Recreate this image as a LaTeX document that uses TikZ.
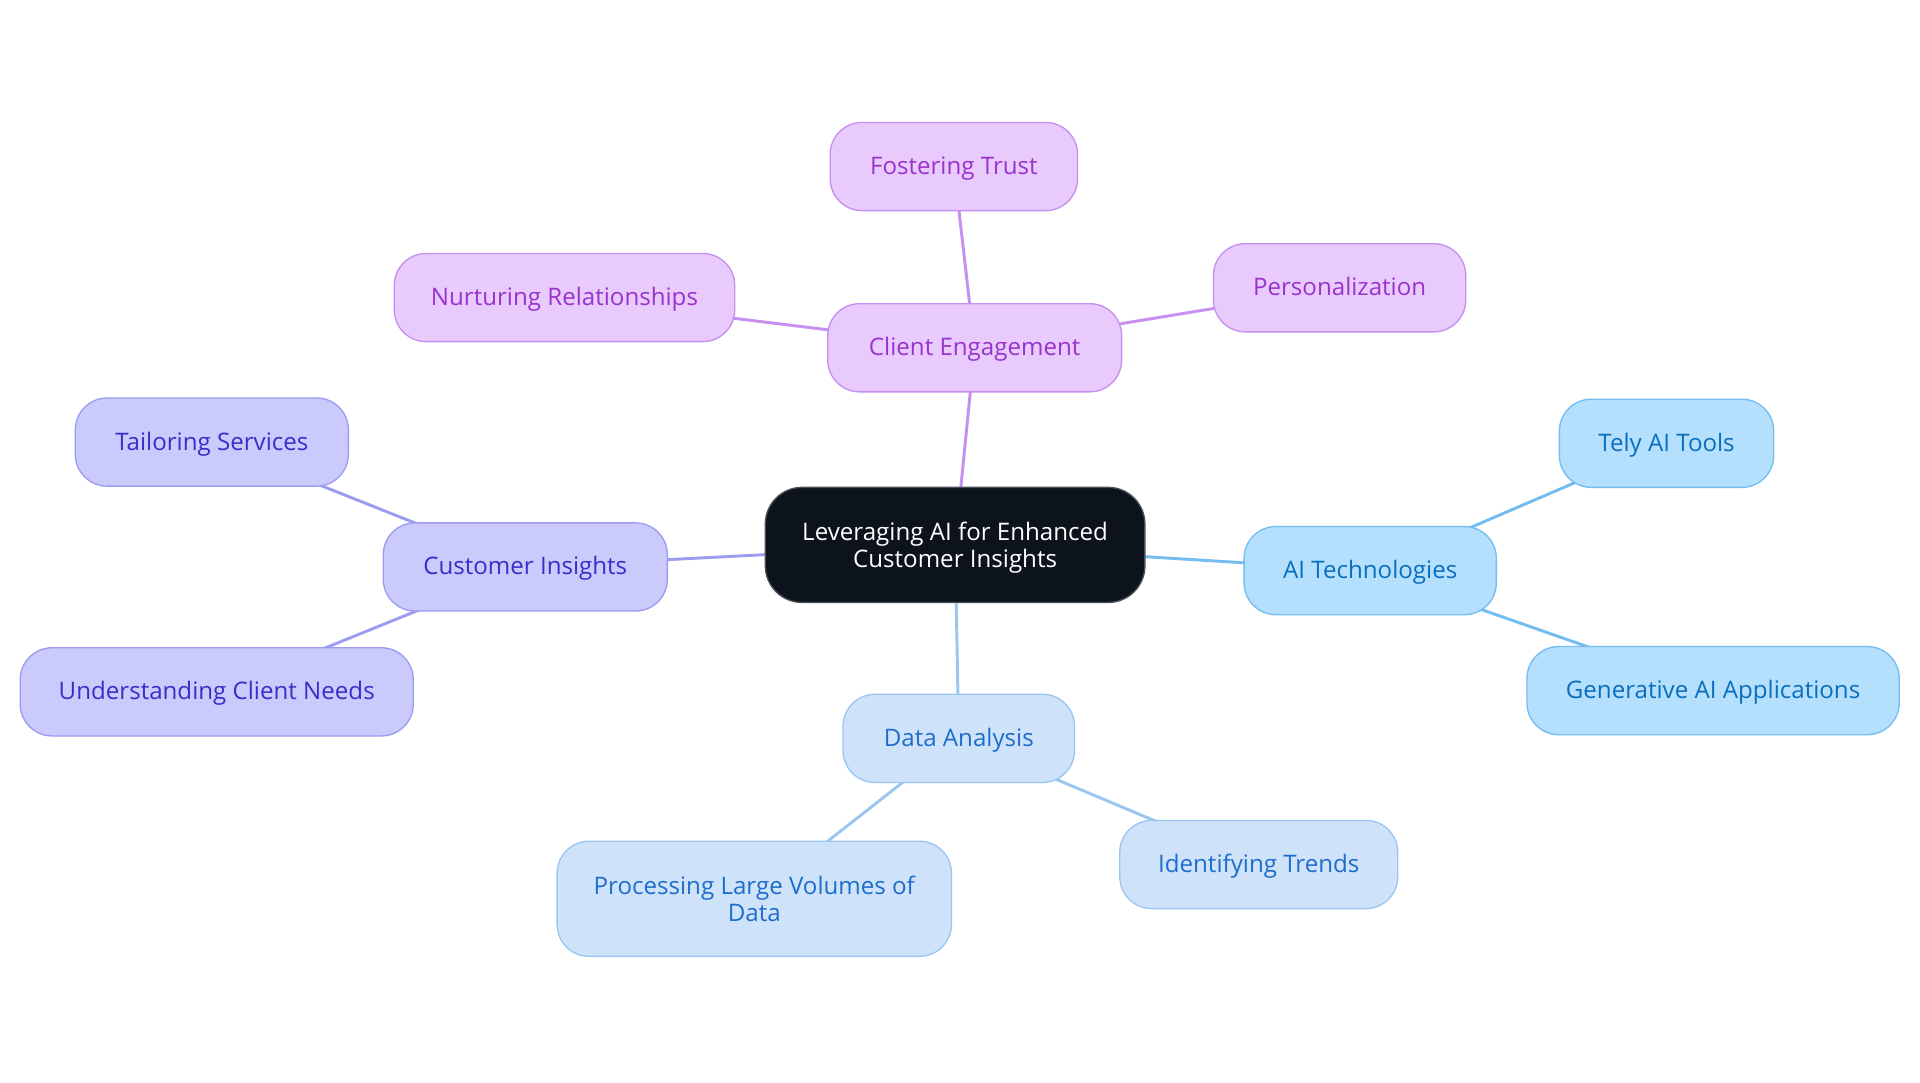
\documentclass[tikz,border=0pt]{standalone}
\usepackage{fontspec}
\setmainfont{Open Sans}
\usetikzlibrary{backgrounds}
\pgfdeclarelayer{paper}
\pgfsetlayers{paper,background,main}
\definecolor{rootfill}{HTML}{0D131C}
\definecolor{rootdraw}{HTML}{4A4F57}
\definecolor{pfill}{HTML}{E8CAFD}
\definecolor{pdraw}{HTML}{C690F0}
\definecolor{ptext}{HTML}{9933CC}
\definecolor{vfill}{HTML}{CACAFC}
\definecolor{vdraw}{HTML}{9C9CF0}
\definecolor{vtext}{HTML}{3A2DC8}
\definecolor{bfill}{HTML}{B5E0FD}
\definecolor{bdraw}{HTML}{74BDF0}
\definecolor{btext}{HTML}{0A6EBE}
\definecolor{dfill}{HTML}{CEE3FA}
\definecolor{ddraw}{HTML}{9CC6F2}
\definecolor{dtext}{HTML}{1E6CCC}
\newcommand{\toprule}{\rule{0pt}{20pt}}
\newcommand{\botrule}{\rule[-5pt]{0pt}{5pt}}
\tikzset{
  base/.style={rectangle, rounded corners=26pt, inner sep=0pt, line width=1.1pt, align=center,
    font=\fontsize{19.7}{22}\selectfont, minimum height=72pt, text height=17pt, text depth=4pt},
  twoline/.style={minimum height=94pt, text height=, text depth=},
  rootnode/.style={base, twoline, fill=rootfill, draw=rootdraw, text=white, rounded corners=30pt},
  pnode/.style={base, fill=pfill, draw=pdraw, text=ptext},
  vnode/.style={base, fill=vfill, draw=vdraw, text=vtext},
  bnode/.style={base, fill=bfill, draw=bdraw, text=btext},
  dnode/.style={base, fill=dfill, draw=ddraw, text=dtext},
  pline/.style={draw=pdraw, line width=2.4pt},
  vline/.style={draw=vdraw, line width=2.4pt},
  bline/.style={draw=bdraw, line width=2.4pt},
  dline/.style={draw=ddraw, line width=2.4pt},
}
\begin{document}
\begin{tikzpicture}[x=1pt,y=-1pt]
\begin{pgfonlayer}{paper}
\fill[white] (0,0) rectangle (1568,884.4);
\end{pgfonlayer}
\useasboundingbox (0,0) rectangle (1568,884.4);
\node[rootnode, minimum width=310pt] (root) at (780,445) {\toprule Leveraging AI for Enhanced\\Customer Insights\botrule};
\node[pnode, minimum width=240pt] (ce) at (796,284) {Client Engagement};
\node[pnode, minimum width=202pt] (ft) at (779,136) {Fostering Trust};
\node[pnode, minimum width=278pt] (nr) at (461,243) {Nurturing Relationships};
\node[pnode, minimum width=206pt] (pe) at (1094,235) {Personalization};
\node[vnode, minimum width=232pt] (ci) at (429,463) {Customer Insights};
\node[vnode, minimum width=223pt] (ts) at (173,361) {Tailoring Services};
\node[vnode, minimum width=321pt] (uc) at (177,565) {Understanding Client Needs};
\node[bnode, minimum width=206pt] (ai) at (1119,466) {AI Technologies};
\node[bnode, minimum width=175pt] (ta) at (1361,362) {Tely AI Tools};
\node[bnode, minimum width=304pt] (ga) at (1399,564) {Generative AI Applications};
\node[dnode, minimum width=189pt] (da) at (783,603) {Data Analysis};
\node[dnode, twoline, minimum width=322pt] (pl) at (616,734) {\toprule Processing Large Volumes of\\Data\botrule};
\node[dnode, minimum width=227pt] (it) at (1028,706) {Identifying Trends};
\begin{pgfonlayer}{background}
\draw[pline] (root.center) -- (ce.center);
\draw[pline] (ce.center) -- (ft.center);
\draw[pline] (ce.center) -- (nr.center);
\draw[pline] (ce.center) -- (pe.center);
\draw[vline] (root.center) -- (ci.center);
\draw[vline] (ci.center) -- (ts.center);
\draw[vline] (ci.center) -- (uc.center);
\draw[bline] (root.center) -- (ai.center);
\draw[bline] (ai.center) -- (ta.center);
\draw[bline] (ai.center) -- (ga.center);
\draw[dline] (root.center) -- (da.center);
\draw[dline] (da.center) -- (pl.center);
\draw[dline] (da.center) -- (it.center);
\end{pgfonlayer}
\end{tikzpicture}
\end{document}
